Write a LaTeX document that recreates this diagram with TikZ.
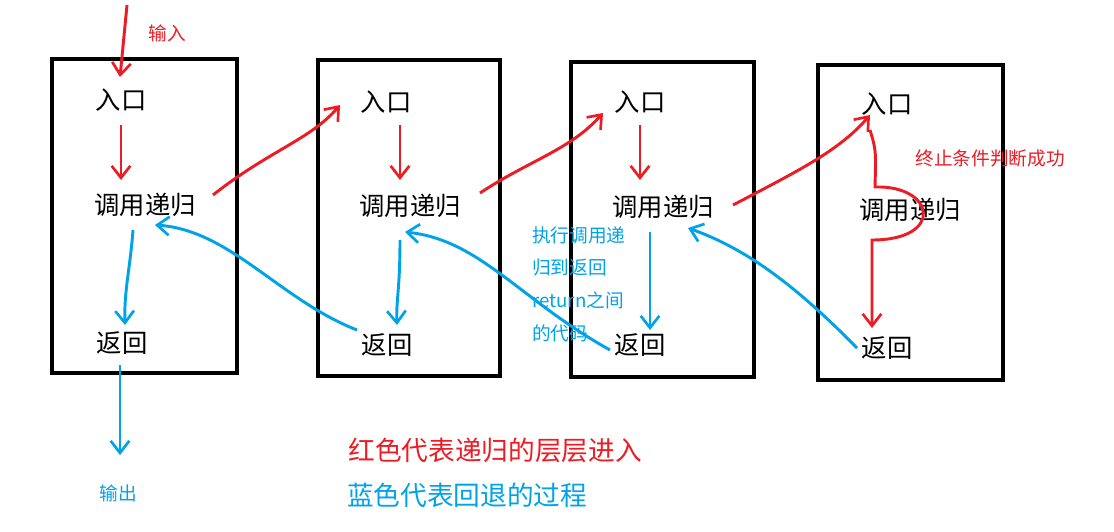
\documentclass[tikz,border=0pt]{standalone}
\usepackage{fontspec}
\setmainfont{Noto Sans CJK SC}
\usetikzlibrary{arrows.meta}
\definecolor{rd}{HTML}{ED1C24}
\definecolor{bl}{HTML}{00A2E8}
\begin{document}
\begin{tikzpicture}[x=0.75pt,y=-0.75pt,
  box/.style={draw,line width=3pt},
  lbl/.style={font=\fontsize{19}{22}\selectfont,inner sep=0pt},
  ra/.style={draw=rd,line width=2.2pt,-{Straight Barb[length=9pt,width=14pt,line width=2pt]}},
  ba/.style={draw=bl,line width=2.2pt,-{Straight Barb[length=9pt,width=14pt,line width=2pt]}},
  rtxt/.style={text=rd,font=\fontsize{14}{22}\selectfont,inner sep=0pt},
  btxt/.style={text=bl,font=\fontsize{14}{24.5}\selectfont,inner sep=0pt,align=left}]
\useasboundingbox (0,0) rectangle (1114,532);
\draw[box] (52,59) rectangle (237,373);
\draw[box] (318,60) rectangle (500,376);
\draw[box] (571,62) rectangle (754,377);
\draw[box] (818,65) rectangle (1003,380);
\node[lbl] (e1) at (121,100) {入口};
\node[lbl] (c1) at (145,205) {调用递归};
\node[lbl] (r1) at (122,343) {返回};
\node[lbl] (e2) at (386,102) {入口};
\node[lbl] (c2) at (410,206) {调用递归};
\node[lbl] (r2) at (387,345) {返回};
\node[lbl] (e3) at (640,102) {入口};
\node[lbl] (c3) at (663,207) {调用递归};
\node[lbl] (r3) at (640,345) {返回};
\node[lbl] (e4) at (887,104) {入口};
\node[lbl] (c4) at (910,210) {调用递归};
\node[lbl] (r4) at (887,348) {返回};
\coordinate (in) at (127,5);
\coordinate (out) at (120,455);
\node[rtxt] (tin) at (167,33) {输入};
\node[btxt] (tout) at (118,493) {输出};
\node[rtxt] (term) at (990,158) {终止条件判断成功};
\node[btxt,anchor=north west] (exec) at (532,226) {执行调用递\\归到返回\\return之间\\的代码};
\node[text=rd,font=\fontsize{20}{24}\selectfont,inner sep=0pt] (leg1) at (495,450) {红色代表递归的层层进入};
\node[text=bl,font=\fontsize{20}{24}\selectfont,inner sep=0pt] (leg2) at (467,495) {蓝色代表回退的过程};
% red
\draw[ra] (in) .. controls (124,40) .. (120,77);
\draw[ra] (121,125) -- (121,180);
\draw[ra] (400,125) -- (400,180);
\draw[ra] (640,125) -- (640,180);
\draw[ra] (213,195) .. controls (270,150) and (310,140) .. (340,105);
\draw[ra] (480,193) .. controls (530,160) and (570,150) .. (603,113);
\draw[ra] (733,205) .. controls (800,170) and (840,150) .. (870,115);
\draw[ra] (870,130) .. controls (876,150) .. (875,187) .. controls (935,185) and (945,240) .. (872,240) -- (872,328);
% blue
\draw[ba] (133,230) .. controls (130,270) and (124,290) .. (125,325);
\draw[ba] (120,365) -- (out);
\draw[ba] (400,240) .. controls (400,290) and (396,300) .. (397,325);
\draw[ba] (650,232) -- (650,330);
\draw[ba] (357,330) .. controls (280,300) and (230,230) .. (155,225);
\draw[ba] (610,350) .. controls (520,300) and (480,240) .. (405,232);
\draw[ba] (857,348) .. controls (800,290) and (750,250) .. (688,228);
\end{tikzpicture}
\end{document}
